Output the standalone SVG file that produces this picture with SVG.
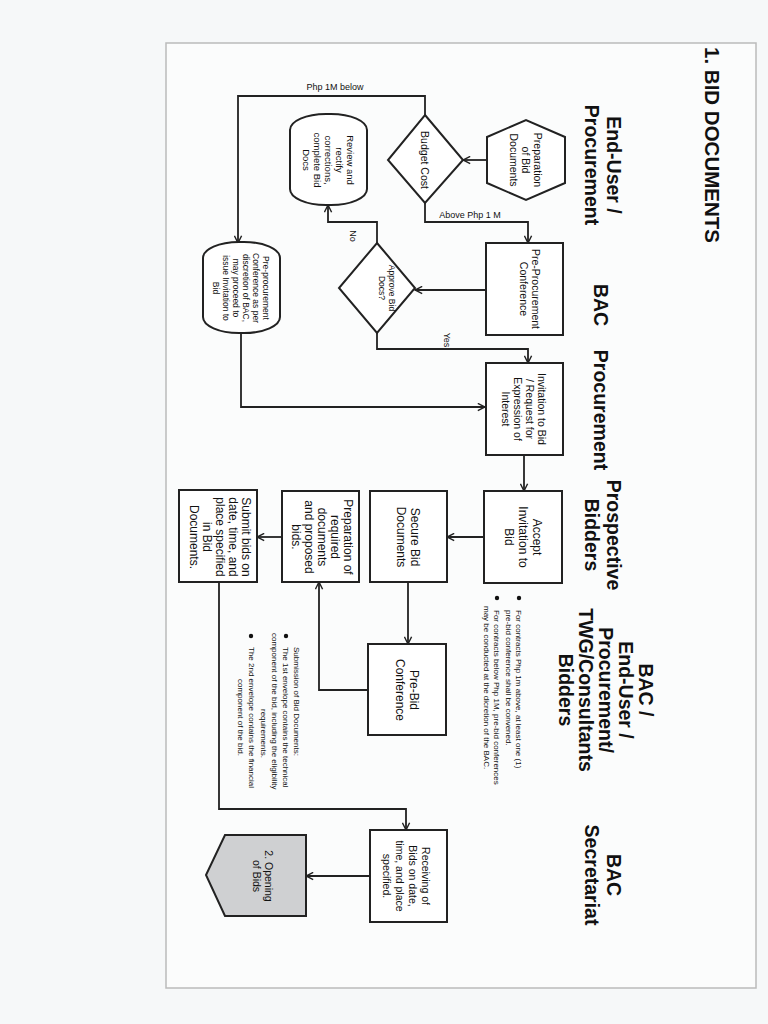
<svg xmlns="http://www.w3.org/2000/svg" width="768" height="1024" viewBox="0 0 768 1024">
<style>
.n{fill:#fff;stroke:#222;stroke-width:2}
.c{fill:none;stroke:#222;stroke-width:1.8}
text{font-family:"Liberation Sans",Arial,sans-serif;fill:#111}
.t{font-size:10.5px;text-anchor:middle}
.h{font-size:19.5px;font-weight:bold;text-anchor:middle}
.s{font-size:8px}
.l{font-size:9px;text-anchor:middle}
</style>
<defs><marker id="a" viewBox="0 0 10 10" refX="9" refY="5" markerWidth="9" markerHeight="9" orient="auto" markerUnits="userSpaceOnUse"><path d="M1,1 L9,5 L1,9" fill="none" stroke="#222" stroke-width="1.6"/></marker></defs>
<rect width="768" height="1024" fill="#f6f8f9"/>
<rect x="166" y="43" width="590" height="945" fill="#fbfcfc" stroke="#bbb" stroke-width="1.5"/>
<text class="h" transform="translate(705,145) rotate(90)" style="font-size:20.5px">1. BID DOCUMENTS</text>
<g id="lanes">
<text class="h" transform="translate(600,165) rotate(90)"><tspan x="0" dy="-7">End-User /</tspan><tspan x="0" dy="22">Procurement</tspan></text>
<text class="h" transform="translate(600,305) rotate(90)"><tspan x="0" dy="6">BAC</tspan></text>
<text class="h" transform="translate(600,410) rotate(90)"><tspan x="0" dy="6">Procurement</tspan></text>
<text class="h" transform="translate(600,535) rotate(90)"><tspan x="0" dy="-7">Prospective</tspan><tspan x="0" dy="22">Bidders</tspan></text>
<text class="h" transform="translate(606,690) rotate(90)"><tspan x="0" dy="-33">BAC /</tspan><tspan x="0" dy="20">End-User /</tspan><tspan x="0" dy="20">Procurement/</tspan><tspan x="0" dy="20">TWG/Consultants</tspan><tspan x="0" dy="20">Bidders</tspan></text>
<text class="h" transform="translate(600,875) rotate(90)"><tspan x="0" dy="-7">BAC</tspan><tspan x="0" dy="22">Secretariat</tspan></text>
</g>
<g id="connectors">
<path class="c" d="M487,160 H463" marker-end="url(#a)"/>
<path class="c" d="M425,115 V96 H238 V243" marker-end="url(#a)"/>
<path class="c" d="M425,203 V222 H528 V243" marker-end="url(#a)"/>
<path class="c" d="M486,290 H415" marker-end="url(#a)"/>
<path class="c" d="M377,244 V222 H328 V205" marker-end="url(#a)"/>
<path class="c" d="M377,333 V349 H528 V363" marker-end="url(#a)"/>
<path class="c" d="M241,333 V407 H485" marker-end="url(#a)"/>
<path class="c" d="M524,455 V491" marker-end="url(#a)"/>
<path class="c" d="M484,537 H447" marker-end="url(#a)"/>
<path class="c" d="M408,582 V644" marker-end="url(#a)"/>
<path class="c" d="M282,537 H257" marker-end="url(#a)"/>
<path class="c" d="M368,690 H319 V582" marker-end="url(#a)"/>
<path class="c" d="M219,582 V809 H406 V830" marker-end="url(#a)"/>
<path class="c" d="M370,876 H306" marker-end="url(#a)"/>
<text class="l" x="335" y="90">Php 1M below</text>
<text class="l" x="470" y="218">Above Php 1 M</text>
<text class="l" transform="translate(350,236) rotate(90)">No</text>
<text class="l" transform="translate(444,340) rotate(90)">Yes</text>
</g>
<g id="prep"><polygon class="n" points="487,137 526,120 565,137 565,183 526,200 487,183"/>
<text class="t" transform="translate(526,160) rotate(90)"><tspan x="0" dy="-8">Preparation</tspan><tspan x="0" dy="12">of Bid</tspan><tspan x="0" dy="12">Documents</tspan></text></g>
<g id="budget"><polygon class="n" points="425,115 463,160 425,203 388,160"/>
<text class="t" transform="translate(425,160) rotate(90)"><tspan x="0" dy="4">Budget Cost</tspan></text></g>
<g id="review"><rect class="n" x="290" y="114" width="77" height="91" rx="36" ry="16"/>
<text class="t" style="font-size:9.5px" transform="translate(328,160) rotate(90)"><tspan x="0" dy="-19">Review and</tspan><tspan x="0" dy="11">rectify</tspan><tspan x="0" dy="11">corrections,</tspan><tspan x="0" dy="11">complete Bid</tspan><tspan x="0" dy="11">Docs</tspan></text></g>
<g id="preproc"><rect class="n" x="486" y="243" width="77" height="92"/>
<text class="t" transform="translate(524,289) rotate(90)"><tspan x="0" dy="-8">Pre-Procurement</tspan><tspan x="0" dy="12">Conference</tspan></text></g>
<g id="approve"><polygon class="n" points="377,243 415,288 377,333 339,288"/>
<text class="t" style="font-size:8.5px" transform="translate(382,288) rotate(90)"><tspan x="0" dy="-7">Approve Bid</tspan><tspan x="0" dy="10">Docs?</tspan></text></g>
<g id="preproc2"><rect class="n" x="203" y="242" width="77" height="91" rx="36" ry="16"/>
<text class="t" style="font-size:8.5px" transform="translate(241,288) rotate(90)"><tspan x="0" dy="-22">Pre-procurement</tspan><tspan x="0" dy="10">Conference as per</tspan><tspan x="0" dy="10">discretion of BAC,</tspan><tspan x="0" dy="10">may proceed to</tspan><tspan x="0" dy="10">issue Invitation to</tspan><tspan x="0" dy="10">Bid</tspan></text></g>
<g id="invite"><rect class="n" x="486" y="363" width="77" height="92"/>
<text class="t" transform="translate(524,409) rotate(90)"><tspan x="0" dy="-14">Invitation to Bid</tspan><tspan x="0" dy="12">/ Request for</tspan><tspan x="0" dy="12">Expression of</tspan><tspan x="0" dy="12">Interest</tspan></text></g>
<g id="accept"><rect class="n" x="484" y="491" width="78" height="92"/>
<text class="t" style="font-size:12px" transform="translate(523,537) rotate(90)"><tspan x="0" dy="-10">Accept</tspan><tspan x="0" dy="14">Invitation to</tspan><tspan x="0" dy="14">Bid</tspan></text></g>
<g id="secure"><rect class="n" x="370" y="491" width="77" height="91"/>
<text class="t" style="font-size:12px" transform="translate(408,537) rotate(90)"><tspan x="0" dy="-3">Secure Bid</tspan><tspan x="0" dy="14">Documents</tspan></text></g>
<g id="prepdocs"><rect class="n" x="282" y="491" width="77" height="91"/>
<text class="t" style="font-size:12px" transform="translate(320,537) rotate(90)"><tspan x="0" dy="-24">Preparation of</tspan><tspan x="0" dy="13">required</tspan><tspan x="0" dy="13">documents</tspan><tspan x="0" dy="13">and proposed</tspan><tspan x="0" dy="13">bids.</tspan></text></g>
<g id="submit"><rect class="n" x="179" y="490" width="78" height="92"/>
<text class="t" style="font-size:12px" transform="translate(218,537) rotate(90)"><tspan x="0" dy="-24">Submit bids on</tspan><tspan x="0" dy="13">date, time, and</tspan><tspan x="0" dy="13">place specified</tspan><tspan x="0" dy="13">in Bid</tspan><tspan x="0" dy="13">Documents.</tspan></text></g>
<g id="prebid"><rect class="n" x="368" y="644" width="78" height="91"/>
<text class="t" style="font-size:12px" transform="translate(407,690) rotate(90)"><tspan x="0" dy="-3">Pre-Bid</tspan><tspan x="0" dy="14">Conference</tspan></text></g>
<g id="receive"><rect class="n" x="370" y="830" width="77" height="92"/>
<text class="t" transform="translate(408,876) rotate(90)"><tspan x="0" dy="-14">Receiving of</tspan><tspan x="0" dy="13">Bids on date,</tspan><tspan x="0" dy="13">time, and place</tspan><tspan x="0" dy="13">specified.</tspan></text></g>
<g id="opening"><polygon points="306,835 225,835 206,875 225,916 306,916" fill="#cfd0d2" stroke="#222" stroke-width="2"/>
<text class="t" transform="translate(262,876) rotate(90)"><tspan x="0" dy="-3">2. Opening</tspan><tspan x="0" dy="12">of Bids</tspan></text></g>
<g id="notes">
<circle cx="519" cy="598" r="2.2" fill="#111"/><circle cx="497" cy="598" r="2.2" fill="#111"/>
<text class="s" transform="translate(519,610) rotate(90)"><tspan x="0" dy="3">For contracts Php 1m above, at least one (1)</tspan><tspan x="0" dy="10">pre-bid conference shall be convened.</tspan><tspan x="0" dy="12">For contracts below Php 1M, pre-bid conferences</tspan><tspan x="-4" dy="10">may be conducted at the dicretion of the BAC.</tspan></text>
<circle cx="286" cy="636" r="2.2" fill="#111"/><circle cx="251" cy="636" r="2.2" fill="#111"/>
<text class="s" transform="translate(297,647) rotate(90)"><tspan x="0" dy="3">Submission of Bid Documents:</tspan><tspan x="0" dy="11">The 1st envelope contains the technical</tspan><tspan x="-14" dy="11">component of the bid, including the eligibility</tspan><tspan x="62" dy="11">requirements.</tspan><tspan x="0" dy="12">The 2nd envelope contains the financial</tspan><tspan x="32" dy="11">component of the bid.</tspan></text>
</g>
</svg>
